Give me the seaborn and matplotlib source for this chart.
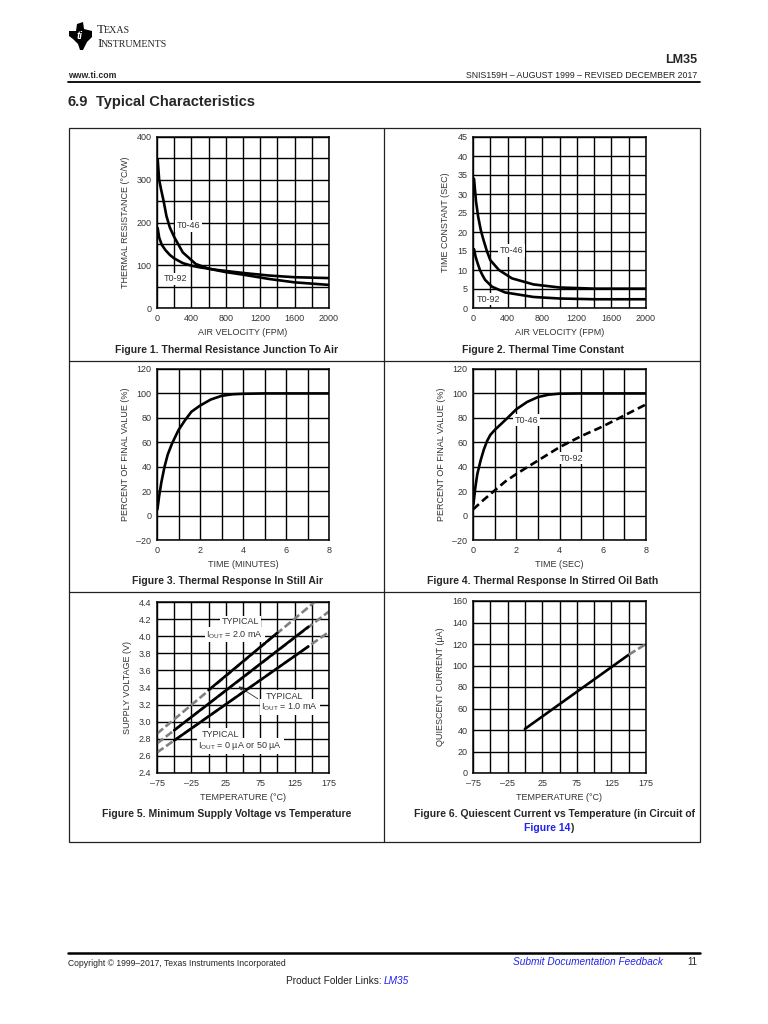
import matplotlib
matplotlib.use("Agg")
import matplotlib.pyplot as plt
from matplotlib.patches import Rectangle, Polygon
import seaborn as sns

# ---- data ----
# Figure 1: thermal resistance vs air velocity
p1_x46 = [8, 25, 50, 75, 110, 150, 200, 300, 450, 600, 800, 1000, 1300, 1600, 2000]
p1_y46 = [348, 300, 275, 252, 215, 188, 166, 130, 103, 92, 84, 78, 68, 60, 54]
p1_x92 = [8, 25, 55, 100, 150, 200, 300, 400, 500, 700, 1000, 1300, 1600, 2000]
p1_y92 = [187, 165, 148, 135, 124, 116, 105, 99, 95, 89, 82, 76, 72, 70]

# Figure 2: thermal time constant vs air velocity
p2_x46 = [12, 35, 60, 90, 120, 160, 200, 300, 450, 700, 1000, 1400, 2000]
p2_y46 = [34, 28, 24, 20.5, 18, 15, 12.6, 10, 7.8, 6.2, 5.4, 5.1, 5.1]
p2_x92 = [12, 30, 50, 80, 110, 140, 220, 370, 700, 1000, 1400, 2000]
p2_y92 = [15.5, 13.5, 12, 10, 8.6, 7.4, 5.6, 4.1, 2.9, 2.5, 2.3, 2.3]

# Figure 3: thermal response in still air
p3_t = [0.02, 0.1, 0.2, 0.35, 0.5, 0.7, 1.0, 1.3, 1.6, 2.0, 2.5, 3.0, 3.5, 4.0, 5, 6, 7, 8]
p3_y = [5, 16, 27, 40, 50, 59, 70, 78, 85, 90, 95, 98, 99.3, 99.7, 100, 100, 100, 100]

# Figure 4: thermal response in stirred oil bath
p4_t46 = [0.02, 0.1, 0.2, 0.35, 0.5, 0.65, 0.8, 1.0, 1.3, 1.6, 2.0, 2.5, 3.0, 3.5, 4.0, 5, 6, 7, 8]
p4_y46 = [9, 22, 34, 45, 54, 61, 66, 70, 75, 80, 87, 93, 97, 99, 99.8, 100, 100, 100, 100]
p4_t92 = [0, 0.5, 1, 1.5, 2, 3, 4, 5, 6, 7, 8]
p4_y92 = [5, 13, 20.5, 28, 34, 45, 56, 65, 73, 82, 91]

# Figure 5: minimum supply voltage vs temperature (dashed = full range, solid = typical span)
p5_dash_t = [-75, 175]
p5_dash_a = [2.86, 4.54]
p5_dash_b = [2.745, 4.29]
p5_dash_c = [2.64, 4.05]
p5_solid_ta = [0, 100]
p5_solid_a = [3.37, 4.04]
p5_solid_tbc = [-50, 145]
p5_solid_b = [2.90, 4.11]
p5_solid_c = [2.78, 3.88]

# Figure 6: quiescent current vs temperature
p6_t = [0, 150]
p6_i = [41, 110]
p6_text = [150, 175]
p6_iext = [110, 120]

sns.set_style("white")
plt.rcParams["font.family"] = ["Liberation Sans", "DejaVu Sans"]
plt.rcParams["mathtext.fontset"] = "custom"
plt.rcParams["mathtext.rm"] = "Liberation Sans"

W, H = 768, 1024
fig = plt.figure(figsize=(7.68, 10.24), dpi=100)
fig.patch.set_facecolor("white")

# page overlay in pixel coordinates
page = fig.add_axes([0, 0, 1, 1], zorder=-1)
page.set_xlim(0, W)
page.set_ylim(H, 0)
page.axis("off")


def panel(l, r, t, b):
    return fig.add_axes([l / W, 1 - b / H, (r - l) / W, (b - t) / H])


def setup(ax, xlim, ylim, xmaj, xlab, xmin, ymaj, ylab, ymin, xlabel, ylabel):
    ax.set_xlim(xlim)
    ax.set_ylim(ylim)
    ax.set_xticks(xmaj)
    ax.set_xticklabels(xlab)
    ax.set_xticks(xmin, minor=True)
    ax.set_yticks(ymaj)
    ax.set_yticklabels(ylab)
    ax.set_yticks(ymin, minor=True)
    ax.grid(True, which="both", color="black", lw=1.0)
    ax.set_axisbelow(True)
    ax.tick_params(which="both", length=0, labelsize=6.5, colors="#333333", pad=4)
    for s in ax.spines.values():
        s.set_color("black")
        s.set_linewidth(1.1)
    ax.set_xlabel(xlabel, fontsize=6.5, color="#333333", labelpad=4)
    ax.set_ylabel(ylabel, fontsize=6.5, color="#333333", labelpad=5)


def curve(ax, x, y, color="black", lw=1.9, ls="-"):
    sns.lineplot(x=x, y=y, ax=ax, color=color, lw=lw, linestyle=ls,
                 estimator=None, sort=False, legend=False)


def tag(ax, x, y, s, size=6.5):
    ax.text(x, y, s, fontsize=size, color="#333333", ha="center", va="center",
            bbox=dict(facecolor="white", edgecolor="none", pad=1.2), zorder=5)


vel_ticks = [0, 400, 800, 1200, 1600, 2000]
vel_minor = list(range(0, 2001, 200))
temp_ticks = [-75, -25, 25, 75, 125, 175]
temp_labels = ["\u201375", "\u201325", "25", "75", "125", "175"]
temp_minor = list(range(-75, 176, 25))
pct_ticks = [-20, 0, 20, 40, 60, 80, 100, 120]
pct_labels = ["\u201320", "0", "20", "40", "60", "80", "100", "120"]

# Figure 1
ax1 = panel(157, 329, 137, 308)
setup(ax1, (0, 2000), (0, 400), vel_ticks, [str(v) for v in vel_ticks], vel_minor,
      [0, 100, 200, 300, 400], ["0", "100", "200", "300", "400"], list(range(0, 401, 50)),
      "AIR VELOCITY (FPM)", "THERMAL RESISTANCE (\u00b0C/W)")
curve(ax1, p1_x46, p1_y46)
curve(ax1, p1_x92, p1_y92)
tag(ax1, 370, 192, "T0-46")
tag(ax1, 212, 68, "T0-92")

# Figure 2
ax2 = panel(473, 646, 137, 308)
setup(ax2, (0, 2000), (0, 45), vel_ticks, [str(v) for v in vel_ticks], vel_minor,
      list(range(0, 46, 5)), [str(v) for v in range(0, 46, 5)], list(range(0, 46, 5)),
      "AIR VELOCITY (FPM)", "TIME CONSTANT (SEC)")
curve(ax2, p2_x46, p2_y46)
curve(ax2, p2_x92, p2_y92)
tag(ax2, 445, 15.1, "T0-46")
tag(ax2, 174, 2.3, "T0-92")

# Figure 3
ax3 = panel(157, 329, 369, 540)
setup(ax3, (0, 8), (-20, 120), [0, 2, 4, 6, 8], ["0", "2", "4", "6", "8"], list(range(0, 9)),
      pct_ticks, pct_labels, pct_ticks, "TIME (MINUTES)", "PERCENT OF FINAL VALUE (%)")
curve(ax3, p3_t, p3_y)

# Figure 4
ax4 = panel(473, 646, 369, 540)
setup(ax4, (0, 8), (-20, 120), [0, 2, 4, 6, 8], ["0", "2", "4", "6", "8"], list(range(0, 9)),
      pct_ticks, pct_labels, pct_ticks, "TIME (SEC)", "PERCENT OF FINAL VALUE (%)")
curve(ax4, p4_t46, p4_y46)
curve(ax4, p4_t92, p4_y92, ls=(0, (3, 1.6)))
tag(ax4, 2.48, 78, "T0-46")
tag(ax4, 4.57, 47, "T0-92")

# Figure 5
ax5 = panel(157, 329, 602, 773)
v_ticks = [2.4 + 0.2 * i for i in range(11)]
setup(ax5, (-75, 175), (2.4, 4.4), temp_ticks, temp_labels, temp_minor,
      v_ticks, ["%.1f" % v for v in v_ticks], v_ticks,
      "TEMPERATURE (\u00b0C)", "SUPPLY VOLTAGE (V)")
for yy in (p5_dash_a, p5_dash_b, p5_dash_c):
    curve(ax5, p5_dash_t, yy, color="#808080", lw=1.9, ls=(0, (3, 1.2)))
curve(ax5, p5_solid_ta, p5_solid_a)
curve(ax5, p5_solid_tbc, p5_solid_b)
curve(ax5, p5_solid_tbc, p5_solid_c)
iout = r"I$_{\mathregular{OUT}}$"
tag(ax5, 46, 4.17, "TYPICAL")
tag(ax5, 38, 4.02, iout + " = 2.0 mA")
tag(ax5, 111, 3.30, "TYPICAL")
tag(ax5, 118, 3.17, iout + " = 1.0 mA")
tag(ax5, 17, 2.85, "TYPICAL")
tag(ax5, 46, 2.72, iout + " = 0 \u00b5A or 50 \u00b5A")
ax5.annotate("", xy=(40, 3.43), xytext=(75, 3.25),
             arrowprops=dict(arrowstyle="-|>", color="#333333", lw=0.6,
                             mutation_scale=6), zorder=6)

# Figure 6
ax6 = panel(473, 646, 601, 773)
setup(ax6, (-75, 175), (0, 160), temp_ticks, temp_labels, temp_minor,
      list(range(0, 161, 20)), [str(v) for v in range(0, 161, 20)], list(range(0, 161, 20)),
      "TEMPERATURE (\u00b0C)", "QUIESCENT CURRENT (\u00b5A)")
curve(ax6, p6_t, p6_i)
curve(ax6, p6_text, p6_iext, color="#808080", ls=(0, (3, 1.2)))

# ---- page furniture ----
logo = Polygon([(69, 31), (76, 31), (77, 24), (83, 22), (84, 29), (92, 31), (92, 37),
                (87, 42), (83, 50), (80, 50), (78, 44), (73, 39), (69, 36)],
               closed=True, facecolor="black", edgecolor="none")
page.add_patch(logo)
page.text(80, 36, "ti", color="white", fontsize=7, fontstyle="italic", fontweight="bold",
          ha="center", va="center")
page.text(97, 33, "T", fontsize=9.5, ha="left", va="baseline", family="Liberation Serif")
page.text(104, 33, "EXAS", fontsize=7.2, ha="left", va="baseline", family="Liberation Serif")
page.text(97, 47, "I", fontsize=9.5, ha="left", va="baseline", family="Liberation Serif")
page.text(101, 47, "NSTRUMENTS", fontsize=7.2, ha="left", va="baseline", family="Liberation Serif")

page.text(697, 60, "LM35", fontsize=9, fontweight="bold", ha="right", va="center")
page.text(68, 76, "www.ti.com", fontsize=6.3, fontweight="bold", ha="left", va="center")
page.text(697, 76, "SNIS159H \u2013 AUGUST 1999 \u2013 REVISED DECEMBER 2017", fontsize=6.3,
          ha="right", va="center", color="#222222")
page.plot([68, 700], [82, 82], color="black", lw=1.3)
page.text(68, 102, "6.9", fontsize=10.5, fontweight="bold", ha="left", va="center")
page.text(96, 102, "Typical Characteristics", fontsize=10.5, fontweight="bold",
          ha="left", va="center")

page.add_patch(Rectangle((69, 128), 631, 714, facecolor="none", edgecolor="#222222", lw=0.9))
page.plot([69, 700], [361, 361], color="#222222", lw=0.9)
page.plot([69, 700], [592, 592], color="#222222", lw=0.9)
page.plot([384, 384], [128, 842], color="#222222", lw=0.9)

cap = dict(fontsize=7.5, fontweight="bold", va="center", ha="center")
page.text(227, 350, "Figure 1. Thermal Resistance Junction To Air", **cap)
page.text(543, 350, "Figure 2. Thermal Time Constant", **cap)
page.text(227, 581, "Figure 3. Thermal Response In Still Air", **cap)
page.text(543, 581, "Figure 4. Thermal Response In Stirred Oil Bath", **cap)
page.text(227, 814, "Figure 5. Minimum Supply Voltage vs Temperature", **cap)
page.text(555, 814, "Figure 6. Quiescent Current vs Temperature (in Circuit of", **cap)
page.text(570, 828, "Figure 14", fontsize=7.5, fontweight="bold", va="center", ha="right",
          color="#2222ee")
page.text(570, 828, ")", fontsize=7.5, fontweight="bold", va="center", ha="left")

page.plot([68, 700], [953, 953], color="black", lw=1.8)
page.text(68, 963, "Copyright \u00a9 1999\u20132017, Texas Instruments Incorporated",
          fontsize=6.2, ha="left", va="center", color="#222222")
page.text(663, 962, "Submit Documentation Feedback", fontsize=7.3, fontstyle="italic",
          ha="right", va="center", color="#2222ee")
page.text(697, 962, "11", fontsize=7, ha="right", va="center")
page.text(384, 981, "Product Folder Links: ", fontsize=7.3, ha="right", va="center",
          color="#222222")
page.text(384, 981, "LM35", fontsize=7.3, fontstyle="italic", ha="left", va="center",
          color="#2222ee")

fig.savefig("out.png", dpi=100, facecolor="white")
